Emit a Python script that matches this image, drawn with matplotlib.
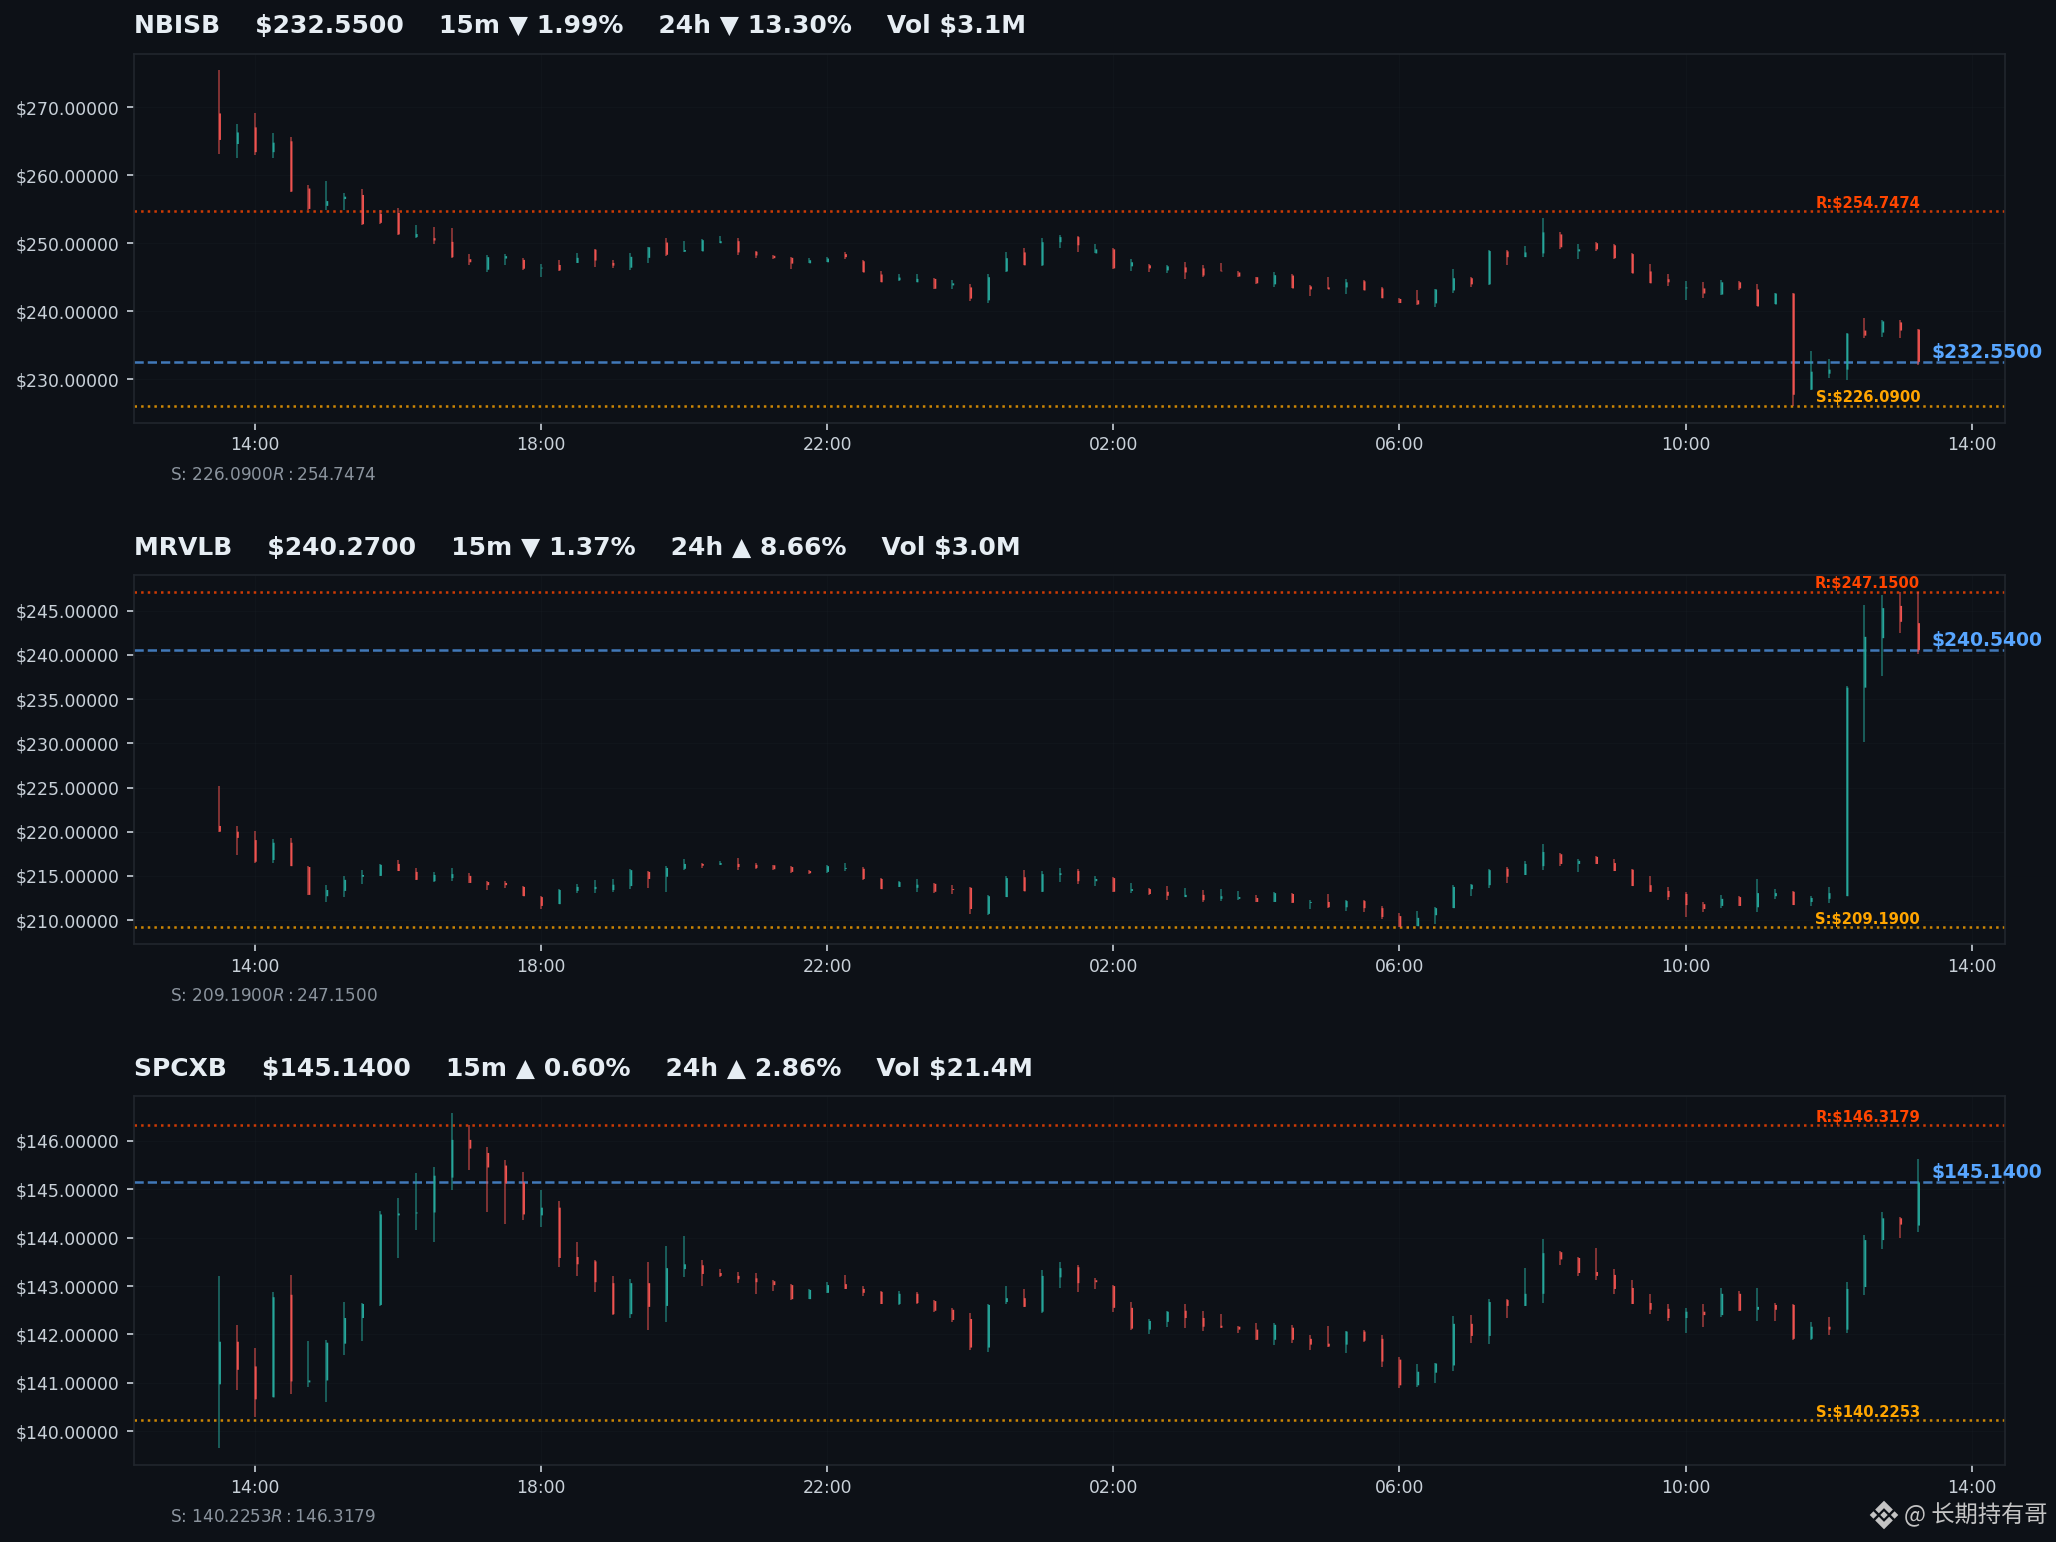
import numpy as np
import pandas as pd
import matplotlib
matplotlib.use("Agg")
import matplotlib.pyplot as plt
import matplotlib.dates as mdates
from matplotlib.patches import Polygon

# 15m candles
times = pd.date_range("2025-01-01 13:30", periods=96, freq="15min")

nbisb_open = [269.1,264.6,267.05,263.4,265.0,258.05,255.5,256.5,257.1,254.35,254.45,250.9,250.75,250.2,247.65,246.1,247.75,247.55,246.3,246.8,247.1,249.05,247.1,246.4,247.85,250.1,248.75,
              248.8,250.0,250.3,248.75,248.15,247.85,247.05,247.2,248.4,247.35,245.4,244.55,244.25,244.75,243.8,243.5,241.6,245.85,248.65,246.75,250.15,250.9,248.5,249.1,246.6,246.75,246.0,246.45,246.3,245.95,245.7,245.0,243.95,245.25,243.65,243.5,243.5,244.4,243.35,
              241.8,241.6,241.15,243.05,244.85,243.95,248.8,247.95,248.5,251.3,248.8,250.0,249.7,248.4,245.85,244.7,243.35,243.35,242.45,244.25,243.2,241.0,242.6,228.45,230.8,231.4,237.15,236.85,238.35,237.3]
nbisb_high = [275.45,267.6,269.1,266.2,265.6,258.5,259.1,257.45,258.05,254.85,255.25,252.7,252.45,252.3,248.45,248.3,248.45,247.85,247.0,247.55,248.6,249.2,247.55,248.6,249.5,250.8,250.4,
              250.6,251.05,250.75,248.8,248.2,247.95,247.8,247.95,248.65,247.5,245.85,245.4,245.4,244.85,244.55,243.95,245.4,248.65,249.25,250.75,251.2,251.05,249.85,249.25,247.65,246.9,246.75,247.2,246.75,247.05,245.85,245.1,245.7,245.4,243.8,245.0,244.7,244.55,243.5,
              242.0,243.05,243.2,246.15,245.0,248.95,248.95,249.55,253.7,251.6,249.85,250.15,249.85,248.5,246.9,245.4,244.4,244.25,244.55,244.4,243.95,242.75,242.75,234.2,232.9,236.85,238.95,238.65,238.65,237.45]
nbisb_low = [263.06,262.6,263.0,262.5,257.6,254.95,254.85,254.95,252.7,252.9,251.25,250.7,249.95,247.85,246.85,245.8,246.85,246.1,245.05,245.95,247.1,246.55,246.4,246.1,247.1,248.15,248.75,
             248.8,250.0,248.25,247.8,247.65,246.15,247.05,247.2,247.65,245.7,244.25,244.4,244.25,243.2,243.2,241.45,241.15,245.7,246.75,246.6,249.25,248.65,248.5,246.15,245.85,245.7,245.55,244.7,245.1,245.85,245.1,243.95,243.5,243.35,242.2,243.2,242.5,243.05,241.9,
             241.15,240.85,240.55,242.75,243.5,243.8,246.75,247.95,247.95,249.1,247.65,248.8,247.65,245.55,244.1,243.75,241.6,241.9,242.45,243.05,240.7,241.0,226.09,228.45,230.2,229.9,236.0,236.15,236.0,232.15]
nbisb_close = [265.2,266.3,263.4,264.8,257.6,255.05,256.2,256.85,252.8,253.0,251.3,251.35,250.4,247.95,247.2,247.95,248.1,246.25,246.4,246.0,247.85,247.45,246.7,248.0,249.4,248.3,249.0,
               250.45,250.3,248.65,248.2,247.8,247.0,247.5,247.75,247.95,245.7,244.25,244.95,244.75,243.3,244.1,241.85,245.0,247.8,246.75,250.15,250.9,249.7,249.1,246.3,247.2,246.3,246.6,245.7,245.25,245.85,245.1,244.1,245.3,243.35,243.2,243.2,244.25,243.05,241.9,
               241.2,241.0,243.2,244.85,243.95,248.85,247.95,248.65,251.6,249.4,249.1,249.1,247.8,245.55,244.1,244.25,243.5,242.6,244.25,243.35,240.7,242.6,227.7,231.1,231.4,236.7,236.4,238.5,237.15,232.55]

mrvlb_open = [220.65,220.0,219.05,216.8,218.75,216.0,212.7,213.3,214.9,215.0,216.35,215.45,214.4,214.75,215.0,214.3,214.2,213.75,212.6,211.8,213.3,213.5,213.4,213.85,215.45,214.9,215.8,216.35,216.25,216.35,216.25,216.2,216.0,215.55,215.45,215.8,215.8,214.65,213.75,213.65,214.1,213.5,213.65,210.7,212.6,214.85,213.2,215.1,215.55,214.4,214.75,213.3,213.5,213.2,212.6,212.85,212.4,212.4,212.5,212.05,212.95,211.95,212.05,211.45,212.15,211.35,210.45,209.3,210.55,211.35,213.5,213.95,215.8,215.1,216.1,217.45,216.35,217.15,216.45,215.7,213.95,213.3,212.95,211.8,211.6,212.6,211.45,212.7,213.2,212.05,212.4,212.7,236.3,241.9,245.55,243.6]
mrvlb_high = [225.2,220.65,220.1,219.2,219.3,216.1,214.0,215.0,215.65,216.35,216.8,215.9,215.45,215.9,215.35,214.4,214.4,213.85,212.7,213.5,214.1,214.55,214.65,215.8,215.55,216.1,216.9,216.45,216.7,217.05,216.45,216.25,216.1,215.65,216.25,216.45,216.0,214.75,214.4,214.65,214.2,213.95,213.75,212.85,215.0,215.65,215.55,215.9,215.8,215.0,214.9,214.2,213.65,213.85,213.65,213.4,213.5,213.3,212.85,213.2,213.05,212.25,212.95,212.25,212.25,211.6,210.8,211.0,211.45,213.95,214.1,215.8,216.0,216.7,218.6,217.6,216.9,217.25,216.9,215.8,215.0,213.75,213.2,212.05,212.85,212.7,214.65,213.5,213.3,212.7,213.75,236.5,245.65,246.8,247.15,247.15]
mrvlb_low = [220.0,217.35,216.45,216.45,216.1,212.85,212.05,212.6,214.1,215.0,215.55,214.55,214.3,214.4,214.2,213.4,213.6,212.7,211.25,211.8,213.05,213.05,213.2,213.5,213.65,213.2,215.65,215.9,216.25,215.65,215.8,215.65,215.3,215.2,215.3,215.55,214.55,213.5,213.75,213.2,213.05,212.95,210.7,210.55,212.6,213.25,213.2,214.3,214.1,213.85,213.2,213.05,212.85,212.25,212.6,212.05,212.15,212.25,212.05,212.05,211.95,211.25,211.35,211.0,210.9,210.1,209.19,209.3,209.55,211.35,212.7,213.65,214.2,215.1,215.65,216.1,215.45,216.35,215.55,213.85,213.2,212.25,210.35,210.9,211.35,211.6,210.9,212.4,211.7,211.6,211.9,212.7,230.15,237.6,242.5,240.1]
mrvlb_close = [220.0,219.3,216.6,218.75,216.1,212.85,213.4,214.55,215.1,216.25,215.55,214.55,215.1,215.2,214.2,213.95,213.95,212.7,211.6,213.4,213.75,213.75,214.0,215.65,214.65,215.9,216.35,216.15,216.45,216.0,215.9,215.75,215.45,215.3,216.1,215.9,214.65,213.5,214.3,214.0,213.2,213.4,211.25,212.7,214.75,213.25,215.2,215.3,214.4,214.65,213.2,213.5,212.95,212.75,212.85,212.25,212.7,212.6,212.05,213.05,211.95,212.05,211.45,212.15,211.35,210.35,209.2,210.25,211.35,213.75,214.0,215.65,214.9,216.35,217.7,216.35,216.7,216.35,215.55,213.85,213.2,212.6,211.7,211.25,212.4,211.6,213.05,213.05,211.7,212.5,213.05,236.3,242.05,245.3,243.75,240.54]

spcxb_open = [140.97,141.85,141.34,140.7,142.82,141.01,141.05,141.81,142.34,142.61,144.46,144.5,144.52,145.24,146.02,145.75,145.49,145.14,144.46,144.62,143.6,143.51,143.06,142.42,143.06,142.59,143.35,143.43,143.27,143.21,143.16,143.1,143.02,142.73,142.86,143.04,142.94,142.88,142.63,142.84,142.69,142.51,142.32,141.73,142.67,142.75,142.47,143.18,143.39,143.12,143.0,142.55,142.1,142.26,142.49,142.34,142.18,142.16,142.1,141.89,142.14,141.91,141.81,141.79,142.06,141.91,141.48,140.95,141.21,141.36,142.22,141.97,142.71,142.59,142.84,143.7,143.58,143.29,143.23,142.96,142.65,142.53,142.34,142.47,142.4,142.84,142.51,142.61,142.61,141.91,142.16,142.1,142.98,143.95,144.4,144.25]
spcxb_high = [143.2,142.2,141.73,142.88,143.23,141.87,141.89,142.67,142.65,144.56,144.81,145.34,145.47,146.58,146.33,145.88,145.61,145.36,144.99,144.75,143.92,143.53,143.21,143.14,143.49,143.82,144.03,143.53,143.35,143.29,143.27,143.12,143.04,142.94,143.08,143.23,143.0,142.9,142.9,142.88,142.71,142.55,142.45,142.63,143.0,142.94,143.33,143.49,143.43,143.16,143.02,142.67,142.32,142.49,142.63,142.49,142.42,142.18,142.24,142.24,142.2,141.99,142.18,142.08,142.1,141.99,141.53,141.4,141.42,142.38,142.4,142.73,142.73,143.37,143.97,143.72,143.6,143.78,143.35,143.12,142.84,142.63,142.55,142.63,142.96,142.9,142.96,142.65,142.63,142.26,142.36,143.08,144.05,144.54,144.42,145.63]
spcxb_low = [139.65,140.86,140.29,140.7,140.78,140.92,140.6,141.58,141.87,142.59,143.58,144.15,143.92,144.99,145.4,144.54,144.29,144.36,144.21,143.39,143.21,142.88,142.4,142.34,142.1,142.26,143.18,143.0,143.18,143.06,142.84,142.9,142.71,142.73,142.86,142.94,142.79,142.63,142.61,142.63,142.47,142.26,141.68,141.64,142.63,142.57,142.45,142.96,142.88,142.94,142.47,142.1,142.0,142.16,142.14,142.08,142.14,142.03,141.89,141.79,141.83,141.68,141.75,141.62,141.85,141.32,140.9,140.92,140.99,141.25,141.83,141.81,142.34,142.59,142.65,143.43,143.21,143.12,142.84,142.63,142.42,142.28,142.03,142.16,142.36,142.49,142.28,142.28,141.89,141.89,141.99,142.03,142.82,143.76,143.99,144.11]
spcxb_close = [141.85,141.27,140.66,142.77,141.03,141.05,141.83,142.34,142.63,144.48,144.5,144.52,145.28,146.02,145.84,145.45,145.12,144.48,144.62,143.58,143.45,143.08,142.42,143.06,142.57,143.37,143.45,143.25,143.21,143.14,143.08,143.02,142.73,142.92,143.02,142.94,142.86,142.63,142.84,142.65,142.49,142.3,141.73,142.61,142.75,142.57,143.21,143.37,143.06,143.08,142.55,142.12,142.28,142.47,142.34,142.16,142.14,142.1,141.89,142.2,141.89,141.79,141.75,142.06,141.87,141.44,140.95,141.23,141.4,142.22,141.97,142.67,142.59,142.84,143.68,143.55,143.27,143.21,142.94,142.63,142.51,142.34,142.47,142.4,142.84,142.49,142.57,142.51,141.91,142.16,142.1,142.94,143.95,144.4,144.27,145.14]

titles = [r"NBISB    \$232.5500    15m ▼ 1.99%    24h ▼ 13.30%    Vol \$3.1M",
          r"MRVLB    \$240.2700    15m ▼ 1.37%    24h ▲ 8.66%    Vol \$3.0M",
          r"SPCXB    \$145.1400    15m ▲ 0.60%    24h ▲ 2.86%    Vol \$21.4M"]
supports = [226.09, 209.19, 140.2253]
resistances = [254.7474, 247.15, 146.3179]
last_prices = [232.55, 240.54, 145.14]
panels = [(nbisb_open, nbisb_high, nbisb_low, nbisb_close),
          (mrvlb_open, mrvlb_high, mrvlb_low, mrvlb_close),
          (spcxb_open, spcxb_high, spcxb_low, spcxb_close)]

BG = "#0d1117"
UP = "#26a69a"
DOWN = "#ef5350"
W, H = 2056, 1542
axes_px = [(53.5, 422.5), (575, 944), (1096, 1465)]

fig = plt.figure(figsize=(W / 150, H / 150), dpi=150, facecolor=BG)
x = mdates.date2num(times)
body_w = 0.105 / 96

for i in range(3):
    top, bottom = axes_px[i]
    ax = fig.add_axes([134 / W, 1 - bottom / H, 1871 / W, (bottom - top) / H], facecolor=BG)
    o, h, l, c = [np.array(v) for v in panels[i]]
    colors = [UP if c[j] >= o[j] else DOWN for j in range(len(o))]

    # wick, then a thin body just to the right of it
    ax.vlines(x, l, h, colors=colors, linewidth=0.8, alpha=0.6, zorder=3)
    ax.bar(x, np.abs(c - o), width=body_w, bottom=np.minimum(o, c), align="edge", color=colors,
           linewidth=0, snap=False, zorder=4)

    # support / resistance / last price
    ax.axhline(resistances[i], color="#ff4500", linestyle=":", linewidth=1.2, alpha=0.8, zorder=2)
    ax.axhline(supports[i], color="#ffa500", linestyle=":", linewidth=1.2, alpha=0.8, zorder=2)
    ax.axhline(last_prices[i], color="#58a6ff", linestyle="--", linewidth=1.2, alpha=0.7, zorder=2)
    ax.annotate(f"R:${resistances[i]:.4f}", (x[-1], resistances[i]), xytext=(1, 0.2), textcoords="offset points",
                ha="right", va="bottom", color="#ff4500", fontsize=7.1, fontweight="bold")
    ax.annotate(f"S:${supports[i]:.4f}", (x[-1], supports[i]), xytext=(1, 0.2), textcoords="offset points",
                ha="right", va="bottom", color="#ffa500", fontsize=7.1, fontweight="bold")
    ax.annotate(f"${last_prices[i]:.4f}", (x[-1], last_prices[i]), xytext=(6.4, 0), textcoords="offset points",
                ha="left", va="bottom", color="#58a6ff", fontsize=9, fontweight="bold", annotation_clip=False)

    ax.set_title(titles[i], loc="left", color="#e6edf3", fontsize=12, fontweight="bold", pad=9.7)
    # the two dollar signs are left unescaped on purpose, the reference has them as math
    ax.text(0.0195, -0.142, f"S: ${supports[i]:.4f}  R: ${resistances[i]:.4f}", transform=ax.transAxes,
            color="#8b949e", fontsize=8.1, va="center")

    ax.xaxis.set_major_locator(mdates.HourLocator(byhour=range(2, 24, 4)))
    ax.xaxis.set_major_formatter(mdates.DateFormatter("%H:%M"))
    ax.yaxis.set_major_formatter("${x:.5f}")
    ax.tick_params(colors="#c9d1d9", labelsize=8.3)
    ax.tick_params(axis="x", pad=3)
    ax.grid(True, color="#21262d", linewidth=0.5, alpha=0.2)
    ax.set_axisbelow(True)
    for s in ax.spines.values():
        s.set_color("#21262d")

# watermark, bottom right
logo = fig.add_axes([1869 / W, 1 - 1530 / H, 30 / W, 30 / H])
logo.axis("off")
logo.set_xlim(-1.05, 1.05)
logo.set_ylim(-1.05, 1.05)
logo_parts = [[(0, 0.26), (0.26, 0), (0, -0.26), (-0.26, 0)],
              [(0.74, 0.26), (1, 0), (0.74, -0.26), (0.48, 0)],
              [(-0.74, 0.26), (-0.48, 0), (-0.74, -0.26), (-1, 0)],
              [(0, 1), (0.62, 0.38), (0.36, 0.12), (0, 0.48), (-0.36, 0.12), (-0.62, 0.38)],
              [(0, -1), (0.62, -0.38), (0.36, -0.12), (0, -0.48), (-0.36, -0.12), (-0.62, -0.38)]]
for pts in logo_parts:
    logo.add_patch(Polygon(pts, closed=True, facecolor="#c4c4c4", edgecolor="none"))
fig.text(1904 / W, 1 - 1515 / H, "@ 长期持有哥", color="#c4c4c4", fontsize=11.2, va="center",
         family=["Noto Sans CJK SC", "DejaVu Sans"])

fig.savefig("out.png", dpi=150, facecolor=BG)
